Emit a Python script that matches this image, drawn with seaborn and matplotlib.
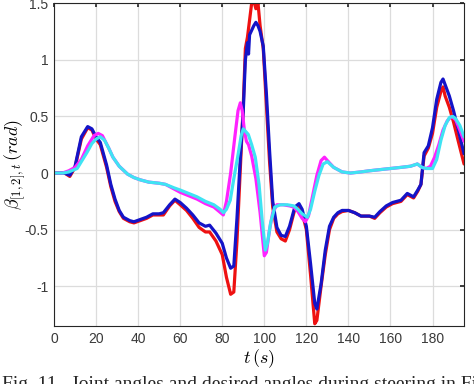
import numpy as np
import pandas as pd
import matplotlib
matplotlib.use("Agg")
import matplotlib.pyplot as plt
import seaborn as sns

# ── Data ──────────────────────────────────────────────────────────────────────

t_red = [0, 5, 7.5, 10, 13, 16, 18, 20, 22, 25, 27, 29, 31, 33, 36, 38, 41, 44, 47,
         50, 52, 55, 57.5, 60, 63, 66, 69, 72, 74, 77, 80, 82, 84, 85.5, 87, 88.5,
         90, 91, 92, 93, 94, 95, 96, 97, 98, 99.5, 101, 102.5, 104, 106, 108, 110,
         112, 114.5, 116.5, 118, 120, 122, 124, 125, 127, 129, 131, 133, 135, 137,
         140, 143, 146, 150, 152.5, 155, 158, 161, 165, 168, 171, 173, 174.5, 176,
         178, 180, 182, 184, 185, 186, 188, 190, 192, 195]
y_red = [0, 0, -0.03, 0.05, 0.30, 0.40, 0.38, 0.30, 0.25, 0.05, -0.12, -0.25, -0.34,
         -0.40, -0.43, -0.44, -0.42, -0.40, -0.37, -0.37, -0.37, -0.29, -0.24, -0.28,
         -0.33, -0.40, -0.48, -0.52, -0.52, -0.60, -0.72, -0.92, -1.07, -1.05, -0.60,
         0.00, 0.60, 1.10, 1.20, 1.35, 1.50, 1.52, 1.45, 1.50, 1.30, 1.10, 0.60, 0.10,
         -0.30, -0.52, -0.58, -0.60, -0.50, -0.32, -0.30, -0.35, -0.50, -0.90, -1.33,
         -1.30, -1.00, -0.72, -0.50, -0.40, -0.36, -0.34, -0.33, -0.35, -0.38, -0.38,
         -0.40, -0.35, -0.30, -0.27, -0.25, -0.19, -0.22, -0.16, -0.10, 0.15, 0.22,
         0.35, 0.58, 0.72, 0.76, 0.68, 0.58, 0.45, 0.30, 0.08]

t_blue = [0, 5, 7.5, 10, 13, 16, 18, 20, 22, 25, 27, 29, 31, 33, 36, 38, 41, 44, 47,
          50, 52, 55, 57.5, 60, 63, 66, 69, 72, 74, 77, 80, 82, 84, 85.5, 87, 88.5,
          90, 91, 92, 92.5, 93, 95, 96, 97, 98, 99.5, 101, 102.5, 104, 106, 108, 110,
          112, 114.5, 116.5, 118, 120, 122, 124, 125, 127, 129, 131, 133, 135, 137,
          140, 143, 146, 150, 152.5, 155, 158, 161, 165, 168, 171, 173, 174.5, 176,
          178, 180, 182, 184, 185, 186, 188, 190, 192, 195]
y_blue = [0, 0, -0.02, 0.06, 0.32, 0.41, 0.39, 0.32, 0.27, 0.07, -0.10, -0.23, -0.33,
          -0.39, -0.42, -0.43, -0.41, -0.39, -0.36, -0.36, -0.35, -0.28, -0.23, -0.26,
          -0.31, -0.37, -0.44, -0.47, -0.46, -0.53, -0.62, -0.75, -0.84, -0.82, -0.40,
          0.10, 0.55, 1.00, 1.15, 1.05, 1.22, 1.30, 1.33, 1.30, 1.25, 1.12, 0.70, 0.20,
          -0.25, -0.48, -0.55, -0.56, -0.47, -0.30, -0.27, -0.32, -0.47, -0.80, -1.15,
          -1.20, -0.98, -0.68, -0.47, -0.39, -0.35, -0.33, -0.33, -0.35, -0.38, -0.38,
          -0.39, -0.34, -0.29, -0.26, -0.24, -0.18, -0.21, -0.15, -0.10, 0.18, 0.24,
          0.40, 0.65, 0.80, 0.83, 0.78, 0.68, 0.55, 0.40, 0.17]

t_mag = [0, 4, 7, 10, 13, 16, 19, 21, 23, 26, 28, 31, 35, 38, 41, 45, 50, 53, 57, 60,
         64, 68, 72, 76, 80.5, 82, 84, 86, 87.5, 88.6, 89.5, 90.5, 91.5, 92.5, 94, 96,
         98, 100, 101, 102.5, 104, 106, 109, 112, 114, 116, 118, 119.5, 121, 123, 125,
         127, 128.6, 130, 133, 137, 141, 146, 150, 155, 160, 165, 169.5, 172.8, 175,
         177, 179, 181, 183, 185, 187, 189, 191, 193, 195]
y_mag = [0, 0, 0.02, 0.05, 0.12, 0.24, 0.33, 0.35, 0.33, 0.22, 0.14, 0.06, -0.01, -0.04,
         -0.06, -0.08, -0.09, -0.10, -0.14, -0.17, -0.20, -0.23, -0.27, -0.30, -0.37,
         -0.25, 0.00, 0.32, 0.55, 0.62, 0.55, 0.38, 0.28, 0.25, 0.15, -0.05, -0.35,
         -0.73, -0.70, -0.50, -0.35, -0.28, -0.28, -0.29, -0.30, -0.34, -0.40, -0.43,
         -0.38, -0.20, -0.02, 0.11, 0.14, 0.11, 0.05, 0.01, 0.00, 0.01, 0.02, 0.03,
         0.04, 0.05, 0.06, 0.08, 0.05, 0.04, 0.06, 0.14, 0.25, 0.38, 0.46, 0.50, 0.47,
         0.38, 0.28]

t_cyan = [0, 4.4, 7, 11, 15.6, 18, 20, 22, 24, 26, 28, 31, 35, 38, 41, 45, 50, 53, 57,
          60, 64, 68, 72, 76, 79, 80.6, 82, 83.8, 85.5, 87.6, 89, 90, 91, 92.4, 94,
          95.7, 97.5, 99, 100.5, 101.5, 103, 105, 107.6, 111, 114, 116, 118, 120.5,
          122, 124, 126, 128, 130, 133, 137, 141, 146, 150, 155, 160, 165, 169.5,
          172.8, 175, 177, 180, 182, 184, 186, 188, 189.6, 191, 193, 195]
y_cyan = [0, 0, 0.01, 0.04, 0.18, 0.26, 0.30, 0.32, 0.29, 0.22, 0.14, 0.06, -0.01,
          -0.04, -0.06, -0.08, -0.09, -0.10, -0.13, -0.15, -0.18, -0.21, -0.25, -0.28,
          -0.32, -0.35, -0.32, -0.24, -0.05, 0.17, 0.33, 0.39, 0.37, 0.34, 0.25, 0.14,
          -0.10, -0.42, -0.68, -0.62, -0.44, -0.30, -0.28, -0.28, -0.29, -0.32, -0.36,
          -0.39, -0.32, -0.16, -0.02, 0.08, 0.10, 0.05, 0.01, 0.00, 0.01, 0.02, 0.03,
          0.04, 0.05, 0.06, 0.08, 0.05, 0.04, 0.04, 0.12, 0.29, 0.42, 0.49, 0.50, 0.48,
          0.42, 0.32]

x_ticks = [0, 20, 40, 60, 80, 100, 120, 140, 160, 180]
y_ticks = [-1, -0.5, 0, 0.5, 1, 1.5]
y_tick_labels = ["-1", "-0.5", "0", "0.5", "1", "1.5"]

caption = "Fig. 11.  Joint angles and desired angles during steering in Field"

# ── Plot ──────────────────────────────────────────────────────────────────────

sns.set_theme(style="whitegrid")
plt.rcParams["font.family"] = ["Liberation Sans", "DejaVu Sans"]
plt.rcParams["mathtext.fontset"] = "cm"

fig = plt.figure(figsize=(4.74, 3.84), dpi=100)
ax = fig.add_axes([0.114, 0.151, 0.865, 0.841])

series = [
    (t_red, y_red, "#ee1111"),
    (t_blue, y_blue, "#1414c8"),
    (t_mag, y_mag, "#ff22ff"),
    (t_cyan, y_cyan, "#3fe3f3"),
]
for t, y, color in series:
    df = pd.DataFrame({"t": t, "y": y})
    sns.lineplot(data=df, x="t", y="y", ax=ax, color=color, linewidth=2.3,
                 estimator=None, sort=False)

ax.set_xlim(0, 195)
ax.set_ylim(-1.35, 1.5)
ax.set_xticks(x_ticks)
ax.set_yticks(y_ticks)
ax.set_yticklabels(y_tick_labels)
ax.grid(True, color="#dcdcdc", linewidth=0.9)
ax.tick_params(direction="in", length=3, colors="#262626", labelsize=10,
               top=True, right=True, labelcolor="#3a3a3a", pad=4)
for side in ax.spines.values():
    side.set_color("#262626")
    side.set_linewidth(0.8)

ax.set_xlabel(r"$t\,(s)$", fontsize=13, color="black")
ax.set_ylabel(r"$\beta_{[1,2],t}\,(rad)$", fontsize=13, color="black")
ax.xaxis.set_label_coords(0.5, -0.066)
ax.yaxis.set_label_coords(-0.064, 0.5)

# caption runs off the bottom edge, only its top shows (as in the reference)
fig.text(0.005, 0.021, caption, fontsize=14, family=["Liberation Serif"],
         ha="left", va="top")

fig.savefig("out.png", dpi=100)
plt.close(fig)
